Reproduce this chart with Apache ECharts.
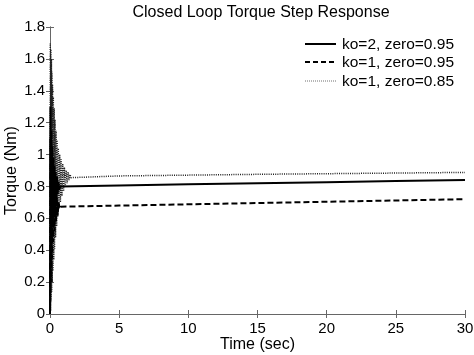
<!DOCTYPE html>
<html><head><meta charset="utf-8">
<script src="https://cdn.jsdelivr.net/npm/echarts@6/dist/echarts.min.js"></script>
<style>html,body{margin:0;padding:0;background:#fff}#c{width:474px;height:355px}</style>
</head><body><div id="c"></div>
<script>
const seriesNames = ['ko=2, zero=0.95', 'ko=1, zero=0.95', 'ko=1, zero=0.85'];
const xTicks = [0, 5, 10, 15, 20, 25, 30];
const yTicks = [0, 0.2, 0.4, 0.6, 0.8, 1, 1.2, 1.4, 1.6, 1.8];
// [time (s), torque (Nm)]
const ko2z95 = [[0,0],[0.03,1.30],[0.06,0.30],[0.09,1.15],[0.12,0.45],[0.16,1.05],[0.20,0.55],[0.24,0.98],[0.28,0.62],[0.32,0.93],[0.36,0.67],[0.40,0.89],[0.45,0.71],[0.50,0.86],[0.55,0.75],[0.61,0.83],[0.67,0.78],[0.74,0.80],[0.80,0.80],[5,0.806],[10,0.813],[15,0.820],[20,0.827],[25,0.834],[30,0.840]];
const ko1z95 = [[0,0],[0.03,1.10],[0.06,0.20],[0.10,0.95],[0.14,0.35],[0.18,0.88],[0.22,0.45],[0.27,0.82],[0.32,0.52],[0.37,0.77],[0.43,0.58],[0.49,0.73],[0.55,0.62],[0.62,0.70],[0.70,0.66],[0.78,0.673],[5,0.680],[10,0.688],[15,0.696],[20,0.704],[25,0.712],[30,0.720]];
const ko1z85 = [[0,0],[0.02,1.70],[0.04,0.02],[0.06,1.66],[0.08,0.08],[0.10,1.60],[0.12,0.14],[0.14,1.52],[0.16,0.20],[0.18,1.44],[0.21,0.27],[0.24,1.36],[0.27,0.34],[0.30,1.29],[0.33,0.41],[0.36,1.22],[0.40,0.48],[0.44,1.15],[0.48,0.55],[0.52,1.09],[0.56,0.61],[0.60,1.04],[0.65,0.66],[0.70,1.00],[0.75,0.70],[0.80,0.97],[0.86,0.74],[0.92,0.94],[0.98,0.77],[1.04,0.92],[1.10,0.80],[1.17,0.90],[1.24,0.82],[1.31,0.89],[1.38,0.84],[1.45,0.875],[1.52,0.855],[1.60,0.863],[5,0.866],[10,0.871],[15,0.876],[20,0.880],[25,0.884],[30,0.888]];

const font = 'Liberation Sans, Arial, sans-serif';
const axisCol = '#666';
const legendStyles = [
  { width: 2, dash: null, color: '#000' },
  { width: 2, dash: [5, 3], color: '#000' },
  { width: 1.2, dash: [1, 1], color: '#888' }
];
const legendRowsY = [44, 62, 81];
const graphics = [];
seriesNames.forEach((n, i) => {
  graphics.push({ type: 'line', shape: { x1: 305, y1: legendRowsY[i], x2: 336, y2: legendRowsY[i] },
    style: { stroke: legendStyles[i].color, lineWidth: legendStyles[i].width, lineDash: legendStyles[i].dash }, silent: true });
  graphics.push({ type: 'text', x: 342, y: legendRowsY[i] + 1,
    style: { text: n, font: '15.5px ' + font, fill: '#000', textVerticalAlign: 'middle', textAlign: 'left' }, silent: true });
});

const chart = echarts.init(document.getElementById('c'));
chart.setOption({
  animation: false,
  backgroundColor: '#fff',
  title: { text: 'Closed Loop Torque Step Response', left: 256, top: 0, textAlign: 'center',
    textStyle: { fontFamily: font, fontSize: 16, fontWeight: 'normal', color: '#000' } },
  grid: { left: 50, right: 9, top: 27, bottom: 41, outerBoundsMode: 'none', containLabel: false },
  graphic: graphics,
  xAxis: [{
    type: 'value', min: 0, max: 30, interval: 5,
    name: 'Time (sec)', nameLocation: 'middle', nameGap: 23, nameMoveOverlap: false,
    nameTextStyle: { fontFamily: font, fontSize: 16, color: '#000' },
    axisLine: { show: true, onZero: false, lineStyle: { color: axisCol } },
    axisTick: { inside: true, length: 4, lineStyle: { color: axisCol } },
    axisLabel: { fontFamily: font, fontSize: 15, color: '#000', margin: 7,
      formatter: v => xTicks.includes(v) ? String(v) : '' },
    splitLine: { show: false }
  }, {
    type: 'value', min: 0, max: 30, interval: 5, position: 'top',
    axisLine: { show: true, lineStyle: { color: axisCol } },
    axisTick: { inside: true, length: 4, lineStyle: { color: axisCol } },
    axisLabel: { show: false }, splitLine: { show: false }
  }],
  yAxis: [{
    type: 'value', min: 0, max: 1.8, interval: 0.2,
    name: 'Torque (Nm)', nameLocation: 'middle', nameGap: 30, nameMoveOverlap: false,
    nameTextStyle: { fontFamily: font, fontSize: 16, color: '#000' },
    axisLine: { show: true, lineStyle: { color: axisCol } },
    axisTick: { inside: true, length: 4, lineStyle: { color: axisCol } },
    axisLabel: { fontFamily: font, fontSize: 15, color: '#000', margin: 5,
      formatter: v => { const t = yTicks.find(k => Math.abs(k - v) < 1e-6); return t === undefined ? '' : String(t); } },
    splitLine: { show: false }
  }, {
    type: 'value', min: 0, max: 1.8, interval: 0.2, position: 'right',
    axisLine: { show: true, lineStyle: { color: axisCol } },
    axisTick: { inside: true, length: 4, lineStyle: { color: axisCol } },
    axisLabel: { show: false }, splitLine: { show: false }
  }],
  series: [
    { name: seriesNames[0], type: 'line', data: ko2z95, symbol: 'none', color: '#000', z: 3,
      lineStyle: { color: '#000', width: 2, type: 'solid' } },
    { name: seriesNames[1], type: 'line', data: ko1z95, symbol: 'none', color: '#000', z: 3,
      lineStyle: { color: '#000', width: 2, type: [6, 3] } },
    { name: seriesNames[2], type: 'line', data: ko1z85, symbol: 'none', color: '#222', z: 2,
      lineStyle: { color: '#222', width: 1.5, type: [1, 1.2] } }
  ]
});
</script></body></html>
